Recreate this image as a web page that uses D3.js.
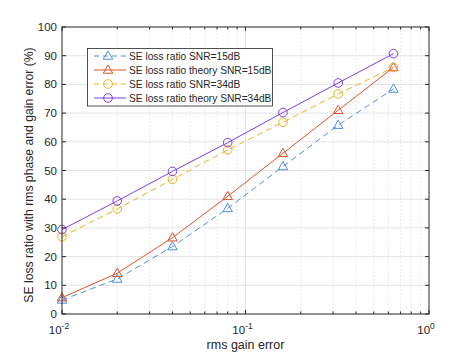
<!DOCTYPE html>
<html><head><meta charset="utf-8">
<script src="https://cdn.jsdelivr.net/npm/d3@7"></script>
<style>body{margin:0;background:#fff}svg{display:block}text{font-family:"Liberation Sans",Arial,sans-serif;fill:#262626}</style>
</head><body><svg id="c" width="474" height="355"></svg>
<script>
const xValues = [0.01, 0.02, 0.04, 0.08, 0.16, 0.32, 0.64];
const seSim15 = [4.9, 12.2, 23.5, 36.8, 51.4, 65.8, 78.4];
const seTheory15 = [5.7, 14.2, 26.6, 41.0, 56.0, 71.0, 85.9];
const seSim34 = [26.9, 36.6, 46.9, 57.2, 66.8, 76.7, 85.9];
const seTheory34 = [29.4, 39.4, 49.7, 59.7, 70.2, 80.5, 90.7];
const seriesNames = ["SE loss ratio SNR=15dB","SE loss ratio theory SNR=15dB","SE loss ratio SNR=34dB","SE loss ratio theory SNR=34dB"];
const yTicks = [0,10,20,30,40,50,60,70,80,90,100];
const xTickExps = [-2,-1,0];

const series = [
  {name:seriesNames[0], vals:seSim15, color:"#4a90e2", dash:"6,4", marker:"tri"},
  {name:seriesNames[1], vals:seTheory15, color:"#e0532b", dash:null, marker:"tri"},
  {name:seriesNames[2], vals:seSim34, color:"#edb120", dash:"6,4", marker:"circ"},
  {name:seriesNames[3], vals:seTheory34, color:"#7e3ee6", dash:null, marker:"circ"}
];

const L=62,R=429,T=27,B=314;
const svg=d3.select("#c");
const x=d3.scaleLog().domain([0.01,1]).range([L,R]);
const y=d3.scaleLinear().domain([0,100]).range([B,T]);

svg.append("rect").attr("x",L).attr("y",T).attr("width",R-L).attr("height",B-T).attr("fill","#fff");

const minor=[];
for(let e=-2;e<0;e++) for(let k=2;k<=9;k++) minor.push(k*Math.pow(10,e));
const g=svg.append("g");
g.selectAll(".mg").data(minor).enter().append("line")
 .attr("x1",d=>x(d)).attr("x2",d=>x(d)).attr("y1",T).attr("y2",B)
 .attr("stroke","#dedede").attr("stroke-width",0.8).attr("stroke-dasharray","1.5,2");
g.selectAll(".xg").data([0.1]).enter().append("line")
 .attr("x1",d=>x(d)).attr("x2",d=>x(d)).attr("y1",T).attr("y2",B)
 .attr("stroke","#e4e4e4").attr("stroke-width",1);
g.selectAll(".yg").data(yTicks.slice(1,-1)).enter().append("line")
 .attr("x1",L).attr("x2",R).attr("y1",d=>y(d)).attr("y2",d=>y(d))
 .attr("stroke","#e4e4e4").attr("stroke-width",1);

const line=d3.line().x((d,i)=>x(xValues[i])).y(d=>y(d));
series.forEach(s=>{
  svg.append("path").datum(s.vals).attr("d",line).attr("fill","none")
    .attr("stroke",s.color).attr("stroke-width",1).attr("stroke-dasharray",s.dash);
});
function marker(sel,s,cx,cy){
  if(s.marker==="tri"){
    const r=5;
    sel.append("path").attr("d",`M${cx},${cy-r}L${cx+r*0.95},${cy+r*0.65}L${cx-r*0.95},${cy+r*0.65}Z`)
     .attr("fill","none").attr("stroke",s.color).attr("stroke-width",1);
  } else {
    sel.append("circle").attr("cx",cx).attr("cy",cy).attr("r",4.3)
     .attr("fill","none").attr("stroke",s.color).attr("stroke-width",1);
  }
}
series.forEach(s=>{
  const mg=svg.append("g");
  s.vals.forEach((v,i)=>marker(mg,s,x(xValues[i]),y(v)));
});

const ax=svg.append("g");
ax.append("rect").attr("x",L).attr("y",T).attr("width",R-L).attr("height",B-T)
  .attr("fill","none").attr("stroke","#262626").attr("stroke-width",1);
yTicks.forEach(t=>{
  ax.append("line").attr("x1",L).attr("x2",L+4).attr("y1",y(t)).attr("y2",y(t)).attr("stroke","#262626");
  ax.append("line").attr("x1",R).attr("x2",R-4).attr("y1",y(t)).attr("y2",y(t)).attr("stroke","#262626");
  ax.append("text").attr("x",L-5).attr("y",y(t)+4).attr("text-anchor","end").attr("font-size",11.5).text(t);
});
minor.forEach(t=>{
  ax.append("line").attr("x1",x(t)).attr("x2",x(t)).attr("y1",B).attr("y2",B-2.5).attr("stroke","#262626");
  ax.append("line").attr("x1",x(t)).attr("x2",x(t)).attr("y1",T).attr("y2",T+2.5).attr("stroke","#262626");
});
xTickExps.forEach(e=>{
  const v=Math.pow(10,e);
  ax.append("line").attr("x1",x(v)).attr("x2",x(v)).attr("y1",B).attr("y2",B-4).attr("stroke","#262626");
  ax.append("line").attr("x1",x(v)).attr("x2",x(v)).attr("y1",T).attr("y2",T+4).attr("stroke","#262626");
  const t=ax.append("text").attr("x",x(v)-3).attr("y",B+20).attr("text-anchor","middle").attr("font-size",11.5);
  t.append("tspan").text("10");
  t.append("tspan").attr("dy",-5).attr("font-size",8.5).text(e);
});
svg.append("text").attr("x",(L+R)/2).attr("y",349).attr("text-anchor","middle").attr("font-size",12.5).text("rms gain error");
svg.append("text").attr("transform",`translate(33,175) rotate(-90)`).attr("text-anchor","middle")
  .attr("font-size",12.2).text("SE loss ratio with rms phase and gain error (%)");

const lg=svg.append("g");
lg.append("rect").attr("x",87.5).attr("y",48.5).attr("width",185).attr("height",57.5)
  .attr("fill","#fff").attr("stroke","#262626").attr("stroke-width",0.8);
series.forEach((s,i)=>{
  const yy=56+i*14;
  lg.append("line").attr("x1",94).attr("x2",126).attr("y1",yy).attr("y2",yy)
    .attr("stroke",s.color).attr("stroke-width",1).attr("stroke-dasharray",s.dash?"5,4":null);
  marker(lg,s,108,yy);
  lg.append("text").attr("x",129).attr("y",yy+4).attr("font-size",10.2).text(s.name);
});
</script></body></html>
